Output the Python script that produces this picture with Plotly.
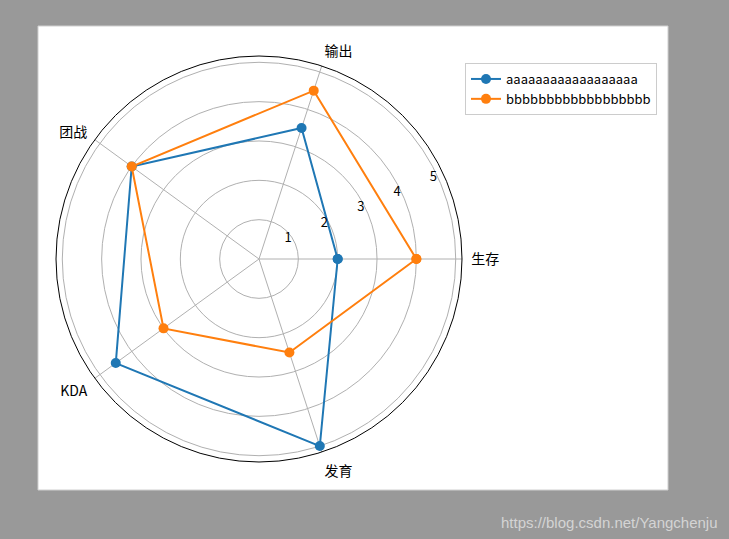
import plotly.graph_objects as go

categories = ["生存", "输出", "团战", "KDA", "发育"]
series_a_name = "aaaaaaaaaaaaaaaaaa"
series_b_name = "bbbbbbbbbbbbbbbbbb"
series_a = [2, 3.5, 4, 4.5, 5]
series_b = [4, 4.5, 4, 3, 2.5]
radial_ticks = [1, 2, 3, 4, 5]
radial_max = 5.16

W, H = 729, 539
cx, cy, R = 259, 259, 203

fig = go.Figure()
for name, vals, color in [(series_a_name, series_a, "#1f77b4"),
                          (series_b_name, series_b, "#ff7f0e")]:
    fig.add_trace(go.Scatterpolar(
        r=vals + vals[:1],
        theta=categories + categories[:1],
        mode="lines+markers",
        name=name,
        line=dict(color=color, width=2),
        marker=dict(color=color, size=10),
    ))

fig.add_shape(type="rect", xref="paper", yref="paper",
              x0=38 / W, x1=668 / W, y0=1 - 490 / H, y1=1 - 26 / H,
              fillcolor="white", line=dict(color="#cfcfcf", width=1), layer="below")

fig.update_layout(
    width=W, height=H,
    margin=dict(l=0, r=0, t=0, b=0),
    paper_bgcolor="#999999",
    font=dict(family="Noto Sans CJK SC", size=13, color="black"),
    polar=dict(
        domain=dict(x=[(cx - R) / W, (cx + R) / W],
                    y=[(H - cy - R) / H, (H - cy + R) / H]),
        bgcolor="rgba(0,0,0,0)",
        radialaxis=dict(
            range=[0, radial_max],
            tickvals=radial_ticks,
            ticktext=[str(t) for t in radial_ticks],
            angle=22.5,
            tickangle=22.5,
            side="counterclockwise",
            showline=False,
            ticks="",
            gridcolor="#b0b0b0",
            gridwidth=1,
            tickfont=dict(size=13, family="Noto Sans CJK SC"),
        ),
        angularaxis=dict(
            rotation=0,
            direction="counterclockwise",
            showline=True,
            linecolor="black",
            linewidth=1,
            gridcolor="#b0b0b0",
            gridwidth=1,
            ticks="outside",
            ticklen=6,
            tickcolor="rgba(0,0,0,0)",
            tickfont=dict(size=14, family="Noto Sans CJK SC"),
        ),
    ),
    legend=dict(
        x=465 / W, y=1 - 63 / H, xanchor="left", yanchor="top",
        bgcolor="white", bordercolor="#cccccc", borderwidth=1,
        font=dict(size=13, family="Noto Sans CJK SC"),
        tracegroupgap=0,
    ),
    annotations=[dict(
        text="https://blog.csdn.net/Yangchenju",
        xref="paper", yref="paper", x=720 / W, y=1 - 522 / H,
        xanchor="right", yanchor="middle", showarrow=False,
        font=dict(family="Liberation Sans", size=15, color="#d4d4d4"),
    )],
)

fig.write_html(
    "out.html",
    config={"displayModeBar": False},
    post_script="document.body.style.margin='0';document.body.style.overflow='hidden';document.body.style.background='#999999';",
)
